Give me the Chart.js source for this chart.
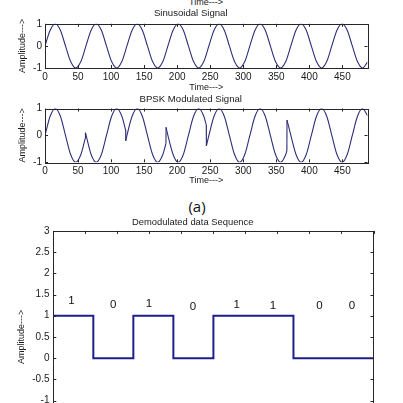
<!DOCTYPE html>
<html><head><meta charset="utf-8">
<script src="https://cdn.jsdelivr.net/npm/chart.js@4.4.1/dist/chart.umd.min.js"></script>
<style>
html,body{margin:0;padding:0;background:#fff;width:403px;height:403px;overflow:hidden;}
canvas{position:absolute;left:0;}
.txt{position:absolute;font-family:'Liberation Sans',Arial,sans-serif;color:#222;white-space:nowrap;transform:translate(-50%,-50%);line-height:1;}
</style></head><body>
<div class="txt" style="left:206px;top:2px;font-size:9px">Time---&gt;</div>
<div class="txt" style="left:197px;top:206px;font-size:15px;font-family:'Open Sans',sans-serif;color:#111">(a)</div>
<canvas id="c1" width="403" height="93" style="top:0px"></canvas>
<canvas id="c2" width="403" height="98" style="top:88px"></canvas>
<canvas id="c3" width="403" height="254" style="top:210px"></canvas>
<script>
const FONT = "'Liberation Sans', Arial, Helvetica, sans-serif";

// ---- data ----
const timeTicks = [0, 50, 100, 150, 200, 250, 300, 350, 400, 450];
const ampTicks = [-1, 0, 1];

const sineTime = [1, 7.8, 15.5, 23.3, 31, 38.8, 46.5, 54.3,
  62, 69.8, 77.5, 85.3, 93, 100.8, 108.5, 116.3,
  124, 131.8, 139.5, 147.3, 155, 162.8, 170.5, 178.3,
  186, 193.8, 201.5, 209.3, 217, 224.8, 232.5, 240.3,
  248, 255.8, 263.5, 271.3, 279, 286.8, 294.5, 302.3,
  310, 317.8, 325.5, 333.3, 341, 348.8, 356.5, 364.3,
  372, 379.8, 387.5, 395.3, 403, 410.8, 418.5, 426.3,
  434, 441.8, 449.5, 457.3, 465, 472.8, 480.5, 488];
const sineAmp = [0.1, 0.71, 1, 0.71, 0, -0.71, -1, -0.71,
  0, 0.71, 1, 0.71, 0, -0.71, -1, -0.71,
  0, 0.71, 1, 0.71, 0, -0.71, -1, -0.71,
  0, 0.71, 1, 0.71, 0, -0.71, -1, -0.71,
  0, 0.71, 1, 0.71, 0, -0.71, -1, -0.71,
  0, 0.71, 1, 0.71, 0, -0.71, -1, -0.71,
  0, 0.71, 1, 0.71, 0, -0.71, -1, -0.71,
  0, 0.71, 1, 0.71, 0, -0.71, -1, -0.73];

const bpskTime = [1, 7.8, 15.5, 23.3, 31, 38.8, 46.5, 54.3, 61,
  61.2, 69.8, 77.5, 85.3, 93, 100.8, 108.5, 116.3, 122,
  122.2, 124, 131.8, 139.5, 147.3, 155, 162.8, 170.5, 178.3, 183,
  183.2, 186, 193.8, 201.5, 209.3, 217, 224.8, 232.5, 240.3, 244,
  244.2, 248, 255.8, 263.5, 271.3, 279, 286.8, 294.5, 302.3,
  310, 317.8, 325.5, 333.3, 341, 348.8, 356.5, 364.3, 366,
  366.2, 372, 379.8, 387.5, 395.3, 403, 410.8, 418.5, 426.3,
  434, 441.8, 449.5, 457.3, 465, 472.8, 480.5, 488];
const bpskAmp = [0.1, 0.71, 1, 0.71, 0, -0.71, -1, -0.71, -0.1,
  0.1, -0.71, -1, -0.71, 0, 0.71, 1, 0.71, 0.2,
  -0.2, 0, 0.71, 1, 0.71, 0, -0.71, -1, -0.71, -0.3,
  0.3, 0, -0.71, -1, -0.71, 0, 0.71, 1, 0.71, 0.39,
  -0.39, 0, 0.71, 1, 0.71, 0, -0.71, -1, -0.71,
  0, 0.71, 1, 0.71, 0, -0.71, -1, -0.71, -0.57,
  0.57, 0, -0.71, -1, -0.71, 0, 0.71, 1, 0.71,
  0, -0.71, -1, -0.71, 0, 0.71, 1, 0.73];

const bitTime = [0, 0.125, 0.25, 0.375, 0.5, 0.625, 0.75, 0.875, 1];
const bitValue = [1, 0, 1, 0, 1, 1, 0, 0, 0];
const bitLabelText = ['1', '0', '1', '0', '1', '1', '0', '0'];
const bitLabelX = [0.057, 0.187, 0.299, 0.436, 0.573, 0.686, 0.831, 0.933];
const bitLabelY = [1.34, 1.25, 1.27, 1.21, 1.25, 1.24, 1.24, 1.24];
const demodXTicks = [0, 0.1, 0.2, 0.3, 0.4, 0.5, 0.6, 0.7, 0.8, 0.9, 1];
const demodYTicks = [-2, -1.5, -1, -0.5, 0, 0.5, 1, 1.5, 2, 2.5, 3];

const LINE = '#2e2e78';

// ---- plugins ----
const frameTicks = {
  id: 'frameTicks',
  afterDatasetsDraw(chart) {
    const {ctx, chartArea: a, scales} = chart;
    const L = 3;
    ctx.save();
    ctx.strokeStyle = '#262626';
    ctx.lineWidth = 1;
    ctx.beginPath();
    scales.x.ticks.forEach(t => {
      const p = Math.round(scales.x.getPixelForValue(t.value)) + 0.5;
      ctx.moveTo(p, a.bottom); ctx.lineTo(p, a.bottom - L);
      ctx.moveTo(p, a.top); ctx.lineTo(p, a.top + L);
    });
    scales.y.ticks.forEach(t => {
      const p = Math.round(scales.y.getPixelForValue(t.value)) + 0.5;
      ctx.moveTo(a.left, p); ctx.lineTo(a.left + L, p);
      ctx.moveTo(a.right, p); ctx.lineTo(a.right - L, p);
    });
    ctx.stroke();
    ctx.strokeRect(Math.round(a.left) + 0.5, Math.round(a.top) + 0.5,
      Math.round(a.right - a.left), Math.round(a.bottom - a.top));
    ctx.restore();
  }
};
const bitLabels = {
  id: 'bitLabels',
  afterDatasetsDraw(chart) {
    const {ctx, scales: {x, y}} = chart;
    ctx.save();
    ctx.fillStyle = '#111';
    ctx.font = '11.5px ' + FONT;
    ctx.textAlign = 'center';
    ctx.textBaseline = 'middle';
    bitLabelText.forEach((s, i) => {
      ctx.fillText(s, x.getPixelForValue(bitLabelX[i]), y.getPixelForValue(bitLabelY[i]));
    });
    ctx.restore();
  }
};

// split a trace into smooth pieces; phase jumps become straight connectors
function traceDatasets(times, amps) {
  const sets = [];
  let cur = [];
  const smooth = pts => ({ data: pts, borderColor: LINE, borderWidth: 1.1, pointRadius: 0,
    cubicInterpolationMode: 'monotone', fill: false });
  for (let i = 0; i < times.length; i++) {
    if (i > 0 && times[i] - times[i - 1] < 0.5) {
      sets.push(smooth(cur));
      sets.push({ data: [{x: times[i - 1], y: amps[i - 1]}, {x: times[i], y: amps[i]}],
        borderColor: LINE, borderWidth: 1.1, pointRadius: 0, tension: 0, fill: false });
      cur = [];
    }
    cur.push({x: times[i], y: amps[i]});
  }
  sets.push(smooth(cur));
  return sets;
}

function signalChart(id, title, times, amps, o) {
  return new Chart(document.getElementById(id), {
    type: 'line',
    data: { datasets: traceDatasets(times, amps) },
    options: {
      responsive: false, animation: false, devicePixelRatio: 1,
      layout: { padding: { left: 14, right: 35.5, top: 0, bottom: 0 } },
      plugins: {
        legend: { display: false }, tooltip: { enabled: false },
        title: { display: true, text: title, color: '#1a1a1a',
          font: { family: FONT, size: 9.6, weight: 'normal', lineHeight: 1.2 },
          padding: { top: o.tTop, bottom: o.tBottom } }
      },
      scales: {
        x: { type: 'linear', min: 0, max: 488,
          afterBuildTicks: s => { s.ticks = timeTicks.map(v => ({value: v})); },
          afterFit: s => { s.height = o.xH; },
          grid: { display: false, drawTicks: false }, border: { display: false },
          ticks: { color: '#1a1a1a', padding: 3, maxRotation: 0, autoSkip: false, font: { family: FONT, size: 10 } },
          title: { display: true, text: 'Time--->', color: '#1a1a1a', padding: { top: 0, bottom: 0 },
            font: { family: FONT, size: 9, lineHeight: 1.2 } } },
        y: { min: -1, max: 1,
          afterBuildTicks: s => { s.ticks = ampTicks.map(v => ({value: v})); },
          afterFit: s => { s.width = 31; },
          grid: { display: false, drawTicks: false }, border: { display: false },
          ticks: { color: '#1a1a1a', padding: 3, font: { family: FONT, size: 10 }, callback: v => String(v) },
          title: { display: true, text: 'Amplitude--->', color: '#1a1a1a', padding: { top: 3.5, bottom: 0 },
            font: { family: FONT, size: 9, lineHeight: 1.2 } } }
      }
    },
    plugins: [frameTicks]
  });
}

signalChart('c1', 'Sinusoidal Signal', sineTime, sineAmp, { tTop: 8, tBottom: 4.3, xH: 25 });
signalChart('c2', 'BPSK Modulated Signal', bpskTime, bpskAmp, { tTop: 5.3, tBottom: 3.7, xH: 23.7 });

new Chart(document.getElementById('c3'), {
  type: 'line',
  data: { datasets: [{ data: bitTime.map((t, i) => ({x: t, y: bitValue[i]})),
    borderColor: '#1f1f8c', borderWidth: 2, pointRadius: 0, stepped: true, fill: false }] },
  options: {
    responsive: false, animation: false, devicePixelRatio: 1,
    layout: { padding: { left: 12, right: 29.5, top: 0, bottom: 0 } },
    plugins: {
      legend: { display: false }, tooltip: { enabled: false },
      title: { display: true, text: 'Demodulated data Sequence', color: '#1a1a1a',
        font: { family: FONT, size: 9.4, weight: 'normal', lineHeight: 1.2 },
        padding: { top: 6.3, bottom: 3.3 } }
    },
    scales: {
      x: { type: 'linear', min: 0, max: 1,
        afterBuildTicks: s => { s.ticks = demodXTicks.map(v => ({value: v})); },
        afterFit: s => { s.height = 21; },
        grid: { display: false, drawTicks: false }, border: { display: false },
        ticks: { display: false } },
      y: { min: -2, max: 3,
        afterBuildTicks: s => { s.ticks = demodYTicks.map(v => ({value: v})); },
        afterFit: s => { s.width = 41.3; },
        grid: { display: false, drawTicks: false }, border: { display: false },
        ticks: { color: '#1a1a1a', padding: 3.8, font: { family: FONT, size: 10 }, callback: v => String(v) },
        title: { display: true, text: 'Amplitude--->', color: '#1a1a1a', padding: { top: 4.2, bottom: 0 },
          font: { family: FONT, size: 9, lineHeight: 1.2 } } }
    }
  },
  plugins: [frameTicks, bitLabels]
});
</script>
</body></html>
